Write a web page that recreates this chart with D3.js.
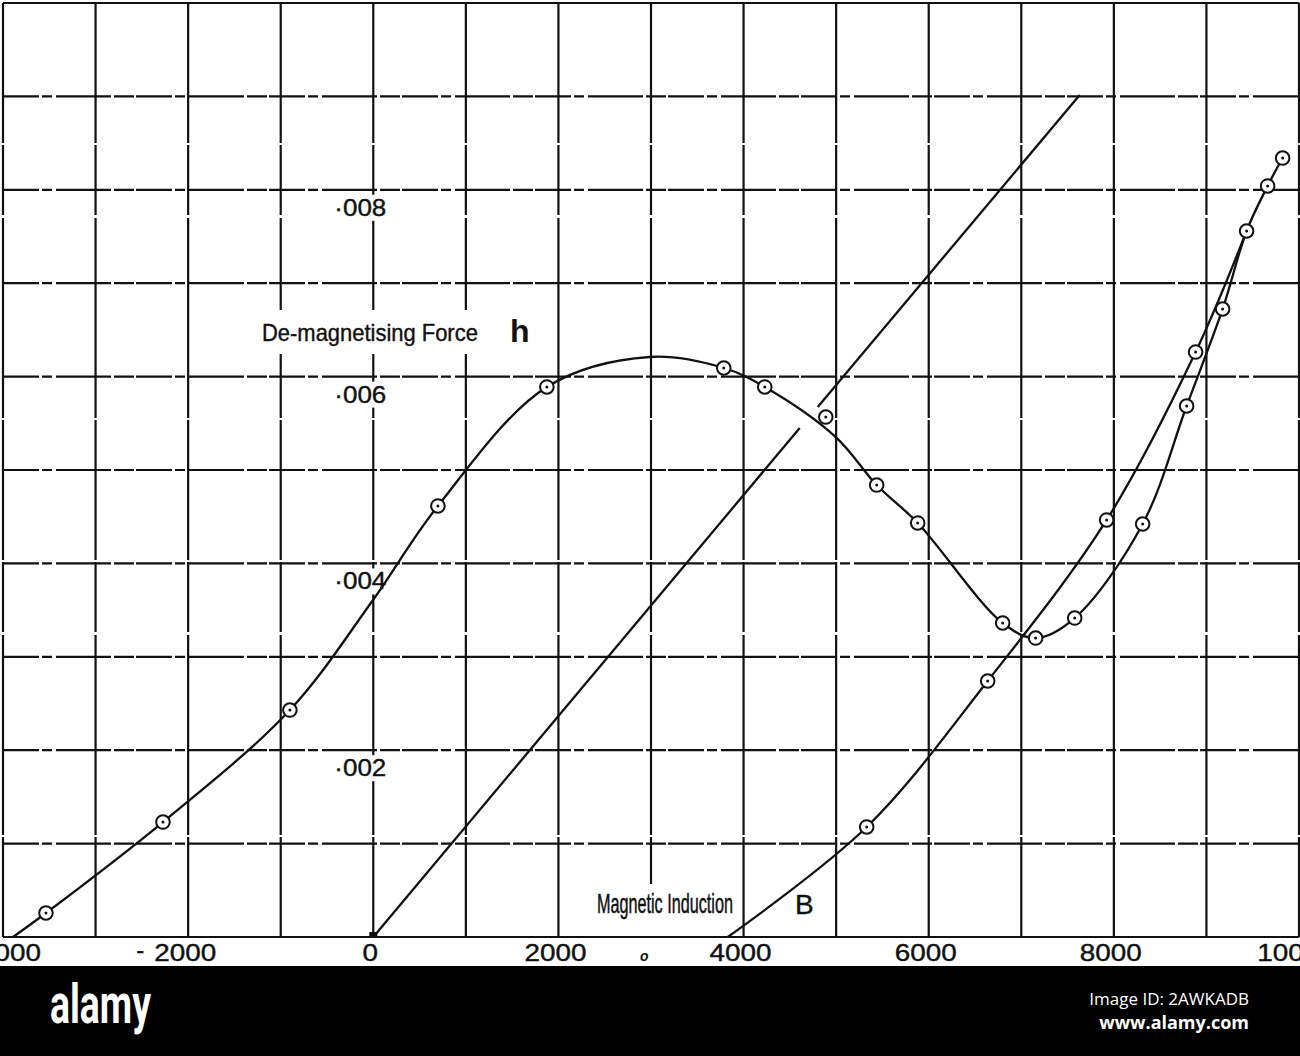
<!DOCTYPE html>
<html><head><meta charset="utf-8">
<script src="https://cdn.jsdelivr.net/npm/d3@7/dist/d3.min.js"></script>
<style>html,body{margin:0;padding:0;background:#fff;} svg{display:block;}</style>
</head><body>
<svg id="chart" width="1300" height="1056"></svg>
<script>
// ---- data ----
const bGrid = [-4000,-3000,-2000,-1000,0,1000,2000,3000,4000,5000,6000,7000,8000,9000,10000];
const hGrid = [0,0.001,0.002,0.003,0.004,0.005,0.006,0.007,0.008,0.009,0.010];
const bTicks = [-4000,-2000,0,2000,4000,6000,8000,10000];
const bTickLabels = ["4000","2000","0","2000","4000","6000","8000","10000"];
const bTickSigns = ["-","-","","","","","",""];
const hTicks = [0.002,0.004,0.006,0.008];
const hTickLabels = ["·002","·004","·006","·008"];

// smooth curve through the observations (B, h)
const curveA = [[-3892,0],[-3536,0.000257],[-2272,0.001231],[-901,0.00243],[-26,0.003576],[698,0.004615],
  [1875,0.005889],[2987,0.00621],[3786,0.006092],[4229,0.005889],[4996,0.005353],[5438,0.004839],
  [5881,0.004433],[6799,0.003362],[7155,0.003201],[7577,0.003415],[8311,0.004422],[8786,0.005685],
  [9175,0.006724],[9434,0.007559],[9661,0.008041],[9823,0.00834]];
const curveB = [[3829,0],[5330,0.001178],[6637,0.002741],[7922,0.004465],[8883,0.006263],[9434,0.007559]];
// straight line, broken in the middle
const lineSeg1 = [[0,0],[4607,0.00545]];
const lineSeg2 = [[4801,0.005675],[7631,0.009015]];
// observed points (circles)
const pointsA = [[-3536,0.000257],[-2272,0.001231],[-901,0.00243],[698,0.004615],[1875,0.005889],
  [3786,0.006092],[4229,0.005889],[4888,0.005567],[5438,0.004839],[5881,0.004433],[6799,0.003362],
  [7155,0.003201],[7577,0.003415],[8311,0.004422],[8786,0.005685],[9175,0.006724],[9434,0.007559],
  [9661,0.008041],[9823,0.00834]];
const pointsB = [[5330,0.001178],[6637,0.002741],[7922,0.004465],[8883,0.006263]];

// ---- drawing ----
const svg = d3.select("#chart");
const x = d3.scaleLinear().domain([-4000,10000]).range([3,1299]);
const y = d3.scaleLinear().domain([0,0.010]).range([937,3]);
const ink = "#111";
const font = "'Liberation Sans', Arial, sans-serif";

// text squeezed horizontally to a given width (real text, scaled by transform)
function fitText(parent, str, x0, y0, width, size, opts) {
  const t = parent.append("text").attr("font-family", (opts&&opts.family)||font)
    .attr("font-size", size).attr("fill", (opts&&opts.fill)||ink).text(str);
  if (opts && opts.weight) t.attr("font-weight", opts.weight);
  if (opts && opts.stroke) t.attr("stroke", ink).attr("stroke-width", opts.stroke);
  const nat = t.node().getComputedTextLength();
  const s = nat > 0 ? width / nat : 1;
  t.attr("transform", `translate(${x0},${y0}) scale(${s},1)`);
  return t;
}

svg.append("rect").attr("width",1300).attr("height",1056).attr("fill","#fff");

const grid = svg.append("g");
grid.selectAll("line.v").data(bGrid).join("line")
  .attr("x1",d=>x(d)).attr("x2",d=>x(d)).attr("y1",y(0.010)).attr("y2",y(0))
  .attr("stroke",ink).attr("stroke-width",2.2)
  .attr("stroke-dasharray","140,2,70,3,200,2");
grid.selectAll("line.h").data(hGrid).join("line")
  .attr("x1",x(-4000)).attr("x2",x(10000)).attr("y1",d=>y(d)).attr("y2",d=>y(d))
  .attr("stroke",ink).attr("stroke-width",2.2)
  .attr("stroke-dasharray",(d,i)=> (i===0||i===hGrid.length-1) ? null : "36,3,10,4,55,3,20,2");

// white gaps behind the text
const bg = svg.append("g").attr("fill","#fff");
hTicks.forEach(v=>{ bg.append("rect").attr("x",x(0)-42).attr("y",y(v)+5).attr("width",60).attr("height",26); });
bg.append("rect").attr("x",258).attr("y",310).attr("width",276).attr("height",44);
bg.append("rect").attr("x",594).attr("y",884).attr("width",142).attr("height",52);

// h tick labels
const hl = svg.append("g");
hTicks.forEach((v,i)=>{
  fitText(hl, hTickLabels[i], x(0)-39, y(v)+26, 52, 24, {stroke:0.4});
});

// B tick labels
const bl = svg.append("g");
bTicks.forEach((v,i)=>{
  const w = bTickLabels[i].length*15.5;
  const cx = x(v) - 3 + (v===-4000 ? 10 : 0);
  fitText(bl, bTickLabels[i], cx - w/2, 961, w, 24, {stroke:0.4});
  if (bTickSigns[i]) {
    bl.append("text").attr("x",cx - w/2 - 10).attr("y",958).attr("text-anchor","end")
      .attr("font-family",font).attr("font-size",24).attr("fill",ink)
      .attr("stroke",ink).attr("stroke-width",0.4).text("-");
  }
});
bl.append("text").attr("x",640).attr("y",961).attr("font-family",font).attr("font-size",14)
  .attr("font-style","italic").attr("font-weight","bold").attr("fill",ink).text("o");

// axis titles
fitText(svg, "De-magnetising Force", 262, 341, 216, 23, {stroke:0.4});
svg.append("text").attr("x",510).attr("y",342).attr("font-family",font).attr("font-size",32)
  .attr("font-weight","bold").attr("fill",ink).text("h");
fitText(svg, "Magnetic Induction", 597, 913, 136, 27, {stroke:0.5});
svg.append("text").attr("x",795).attr("y",914).attr("font-family",font).attr("font-size",28)
  .attr("fill",ink).attr("stroke",ink).attr("stroke-width",0.4).text("B");

// curves
const smooth = d3.line().x(d=>x(d[0])).y(d=>y(d[1])).curve(d3.curveCatmullRom.alpha(0.5));
const straight = d3.line().x(d=>x(d[0])).y(d=>y(d[1]));
const cg = svg.append("g").attr("fill","none").attr("stroke",ink).attr("stroke-width",2.3);
cg.append("path").attr("d",smooth(curveA));
cg.append("path").attr("d",smooth(curveB));
cg.append("path").attr("d",straight(lineSeg1));
cg.append("path").attr("d",straight(lineSeg2));

// origin square
svg.append("rect").attr("x",x(0)-4).attr("y",y(0)-5).attr("width",8).attr("height",6).attr("fill",ink);

// markers
const mg = svg.append("g");
const pts = pointsA.concat(pointsB);
mg.selectAll("circle.o").data(pts).join("circle")
  .attr("cx",d=>x(d[0])).attr("cy",d=>y(d[1])).attr("r",6.8)
  .attr("fill","#fff").attr("stroke",ink).attr("stroke-width",2);
mg.selectAll("circle.c").data(pts).join("circle")
  .attr("cx",d=>x(d[0])).attr("cy",d=>y(d[1])).attr("r",1.5).attr("fill",ink);

// stock-photo footer band
svg.append("rect").attr("x",0).attr("y",966).attr("width",1300).attr("height",90).attr("fill","#000");
fitText(svg, "alamy", 50, 1023, 101, 56, {family:"Roboto, 'Liberation Sans', sans-serif", weight:"bold", fill:"#fff"});
svg.append("text").attr("x",1249).attr("y",1005).attr("text-anchor","end")
  .attr("font-family","'Open Sans', 'Noto Sans', sans-serif").attr("font-size",17).attr("fill","#fff")
  .text("Image ID: 2AWKADB");
svg.append("text").attr("x",1249).attr("y",1029).attr("text-anchor","end")
  .attr("font-family","'Open Sans', 'Noto Sans', sans-serif").attr("font-size",18).attr("font-weight","bold")
  .attr("fill","#fff").text("www.alamy.com");
</script>
</body></html>
